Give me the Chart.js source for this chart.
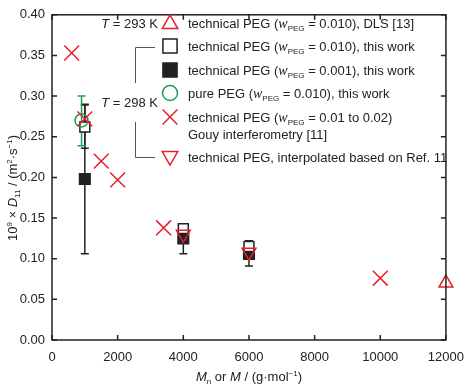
<!DOCTYPE html>
<html>
<head>
<meta charset="utf-8">
<script src="https://cdn.jsdelivr.net/npm/chart.js@4.4.1/dist/chart.umd.min.js"></script>
<style>
  body { margin: 0; background: #fff; }
  #wrap { width: 474px; height: 384px; }
</style>
</head>
<body>
<div id="wrap"><canvas id="myChart"></canvas></div>
<script>
// data
const xTicks = [0, 2000, 4000, 6000, 8000, 10000, 12000];
const yTicks = [0, 0.05, 0.1, 0.15, 0.2, 0.25, 0.3, 0.35, 0.4];

const dlsX = [12000];
const dlsY = [0.070];

const gouyX = [600, 1000, 1500, 2000, 3400, 10000];
const gouyY = [0.353, 0.272, 0.220, 0.197, 0.138, 0.076];

const interpX = [4000, 6000];
const interpY = [0.130, 0.108];

const pureX = [900];
const pureY = [0.270];
const pureLo = [0.239];
const pureHi = [0.300];

const tech010X = [1000, 4000, 6000];
const tech010Y = [0.262, 0.137, 0.115];
const tech010Lo = [0.236, 0.133, 0.111];
const tech010Hi = [0.289, 0.141, 0.121];

const tech001X = [1000, 4000, 6000];
const tech001Y = [0.198, 0.125, 0.106];
const tech001Lo = [0.106, 0.106, 0.091];
const tech001Hi = [0.290, 0.142, 0.122];

const RED = "#e5202a";
const GREEN = "#1a9e55";
const INK = "#222";

function pts(xs, ys) {
  return xs.map((x, i) => ({ x: x, y: ys[i] }));
}

// rich text: parts = [text, kind]
function fontFor(kind, size) {
  if (kind === "i") return "italic " + size + "px 'Liberation Sans'";
  if (kind === "si") return "italic " + (size + 1) + "px 'Liberation Serif'";
  if (kind === "sub" || kind === "sup") return Math.round(size * 0.62) + "px 'Liberation Sans'";
  return size + "px 'Liberation Sans'";
}
function richWidth(ctx, parts, size) {
  let w = 0;
  parts.forEach(p => { ctx.font = fontFor(p[1], size); w += ctx.measureText(p[0]).width; });
  return w;
}
function drawRich(ctx, parts, x, y, size, align) {
  let w = richWidth(ctx, parts, size);
  let cx = align === "center" ? x - w / 2 : (align === "right" ? x - w : x);
  ctx.textAlign = "left";
  ctx.textBaseline = "alphabetic";
  parts.forEach(p => {
    ctx.font = fontFor(p[1], size);
    let dy = 0;
    if (p[1] === "sub") dy = 3;
    if (p[1] === "sup") dy = -5;
    ctx.fillText(p[0], cx, y + dy);
    cx += ctx.measureText(p[0]).width;
  });
}

function marker(ctx, style, x, y, r, rot, color, fill) {
  ctx.save();
  ctx.strokeStyle = color;
  ctx.fillStyle = fill;
  ctx.lineWidth = 1.5;
  Chart.helpers.drawPoint(ctx, { pointStyle: style, radius: r, rotation: rot, borderWidth: 1.5 }, x, y);
  ctx.restore();
}

const errorBars = {
  id: "errorBars",
  beforeDatasetsDraw(chart) {
    const ctx = chart.ctx;
    const xs = chart.scales.x, ys = chart.scales.y;
    function bars(X, lo, hi, color) {
      ctx.save();
      ctx.strokeStyle = color;
      ctx.lineWidth = 1.5;
      X.forEach((v, i) => {
        const px = xs.getPixelForValue(v);
        const p1 = ys.getPixelForValue(lo[i]);
        const p2 = ys.getPixelForValue(hi[i]);
        ctx.beginPath();
        ctx.moveTo(px, p1); ctx.lineTo(px, p2);
        ctx.moveTo(px - 4, p1); ctx.lineTo(px + 4, p1);
        ctx.moveTo(px - 4, p2); ctx.lineTo(px + 4, p2);
        ctx.stroke();
      });
      ctx.restore();
    }
    bars(tech001X, tech001Lo, tech001Hi, INK);
    bars(tech010X, tech010Lo, tech010Hi, INK);
    bars(pureX, pureLo, pureHi, GREEN);
  }
};

const frame = {
  id: "frame",
  afterDraw(chart) {
    const ctx = chart.ctx;
    const a = chart.chartArea;
    const xs = chart.scales.x, ys = chart.scales.y;
    ctx.save();
    ctx.strokeStyle = INK;
    ctx.lineWidth = 1.5;
    ctx.strokeRect(a.left, a.top, a.right - a.left, a.bottom - a.top);
    ctx.beginPath();
    xTicks.forEach(v => {
      const px = xs.getPixelForValue(v);
      ctx.moveTo(px, a.bottom); ctx.lineTo(px, a.bottom - 5);
      ctx.moveTo(px, a.top); ctx.lineTo(px, a.top + 5);
    });
    yTicks.forEach(v => {
      const py = ys.getPixelForValue(v);
      ctx.moveTo(a.left, py); ctx.lineTo(a.left + 5, py);
      ctx.moveTo(a.right, py); ctx.lineTo(a.right - 5, py);
    });
    ctx.stroke();

    // axis titles
    ctx.fillStyle = INK;
    drawRich(ctx, [["M", "i"], ["n", "sub"], [" or ", ""], ["M", "i"], [" / (g\u00b7mol", ""], ["\u22121", "sup"], [")", ""]],
      (a.left + a.right) / 2, 381, 13, "center");
    ctx.save();
    ctx.translate(17, 188);
    ctx.rotate(-Math.PI / 2);
    drawRich(ctx, [["10", ""], ["9", "sup"], [" \u00d7 ", ""], ["D", "i"], ["11", "sub"], [" / (m", ""], ["2", "sup"], ["\u00b7s", ""], ["\u22121", "sup"], [")", ""]],
      0, 0, 13, "center");
    ctx.restore();

    // legend
    const mx = 170, tx = 188;
    const rows = [23, 46, 70, 93, 117, 157];
    const wp = (val, tail) => [["technical PEG (", ""], ["w", "si"], ["PEG", "sub"], [" = " + val + ")" + tail, ""]];
    marker(ctx, "triangle", mx, rows[0] + 1, 9, 0, RED, "rgba(255,255,255,0)");
    marker(ctx, "rect", mx, rows[1], 10, 0, INK, "#fff");
    marker(ctx, "rect", mx, rows[2], 10, 0, INK, INK);
    marker(ctx, "circle", mx, rows[3], 7.5, 0, GREEN, "rgba(255,255,255,0)");
    marker(ctx, "crossRot", mx, rows[4], 10.5, 0, RED, RED);
    marker(ctx, "triangle", mx, rows[5] - 1, 9, 180, RED, "rgba(255,255,255,0)");
    ctx.fillStyle = INK;
    drawRich(ctx, wp("0.010", ", DLS [13]"), tx, rows[0] + 5, 13, "left");
    drawRich(ctx, wp("0.010", ", this work"), tx, rows[1] + 5, 13, "left");
    drawRich(ctx, wp("0.001", ", this work"), tx, rows[2] + 5, 13, "left");
    drawRich(ctx, [["pure PEG (", ""], ["w", "si"], ["PEG", "sub"], [" = 0.010), this work", ""]], tx, rows[3] + 5, 13, "left");
    drawRich(ctx, wp("0.01 to 0.02", ""), tx, rows[4] + 5, 13, "left");
    drawRich(ctx, [["Gouy interferometry [11]", ""]], tx, 139, 13, "left");
    drawRich(ctx, [["technical PEG, interpolated based on Ref. 11", ""]], tx, rows[5] + 5, 13, "left");

    drawRich(ctx, [["T", "i"], [" = 293 K", ""]], 158, rows[0] + 5, 13, "right");
    drawRich(ctx, [["T", "i"], [" = 298 K", ""]], 158, 107, 13, "right");

    ctx.strokeStyle = "#555";
    ctx.lineWidth = 1;
    ctx.beginPath();
    ctx.moveTo(155, 47.5); ctx.lineTo(135.5, 47.5); ctx.lineTo(135.5, 83);
    ctx.moveTo(135.5, 122); ctx.lineTo(135.5, 157.5); ctx.lineTo(155, 157.5);
    ctx.stroke();
    ctx.restore();
  }
};

const tickFont = { family: "'Liberation Sans'", size: 13 };

const config = {
  type: "scatter",
  data: {
    datasets: [
      { label: "interp", data: pts(interpX, interpY), pointStyle: "triangle", rotation: 180, pointRadius: 8,
        borderColor: RED, backgroundColor: "rgba(0,0,0,0)", borderWidth: 1.5, clip: false },
      { label: "gouy", data: pts(gouyX, gouyY), pointStyle: "crossRot", pointRadius: 10.5,
        borderColor: RED, backgroundColor: RED, borderWidth: 1.5, clip: false },
      { label: "dls", data: pts(dlsX, dlsY), pointStyle: "triangle", pointRadius: 8,
        borderColor: RED, backgroundColor: "rgba(0,0,0,0)", borderWidth: 1.5, clip: false },
      { label: "pure", data: pts(pureX, pureY), pointStyle: "circle", pointRadius: 6.5,
        borderColor: GREEN, backgroundColor: "rgba(0,0,0,0)", borderWidth: 1.5, clip: false },
      { label: "tech010", data: pts(tech010X, tech010Y), pointStyle: "rect", pointRadius: 7,
        borderColor: INK, backgroundColor: "#fff", borderWidth: 1.5, clip: false },
      { label: "tech001", data: pts(tech001X, tech001Y), pointStyle: "rect", pointRadius: 7.5,
        borderColor: INK, backgroundColor: INK, borderWidth: 1.5, clip: false },
    ],
  },
  options: {
    responsive: true,
    maintainAspectRatio: false,
    animation: false,
    layout: { padding: { top: 7, right: 18, left: 0, bottom: 0 } },
    plugins: { legend: { display: false }, tooltip: { enabled: false } },
    scales: {
      x: {
        type: "linear", min: 0, max: 12000,
        afterBuildTicks: s => { s.ticks = xTicks.map(v => ({ value: v })); },
        afterFit: s => { s.height = 44; },
        grid: { display: false, drawTicks: false },
        border: { display: false },
        ticks: { font: tickFont, color: INK, padding: 10, maxRotation: 0, callback: v => String(v) },
      },
      y: {
        type: "linear", min: 0, max: 0.4,
        afterBuildTicks: s => { s.ticks = yTicks.map(v => ({ value: v })); },
        afterFit: s => { s.width = 52; },
        grid: { display: false, drawTicks: false },
        border: { display: false },
        ticks: { font: tickFont, color: INK, padding: 7, callback: v => v.toFixed(2) },
      },
    },
  },
  plugins: [errorBars, frame],
};

const myChart = new Chart(document.querySelector("#myChart"), config);
</script>
</body>
</html>
